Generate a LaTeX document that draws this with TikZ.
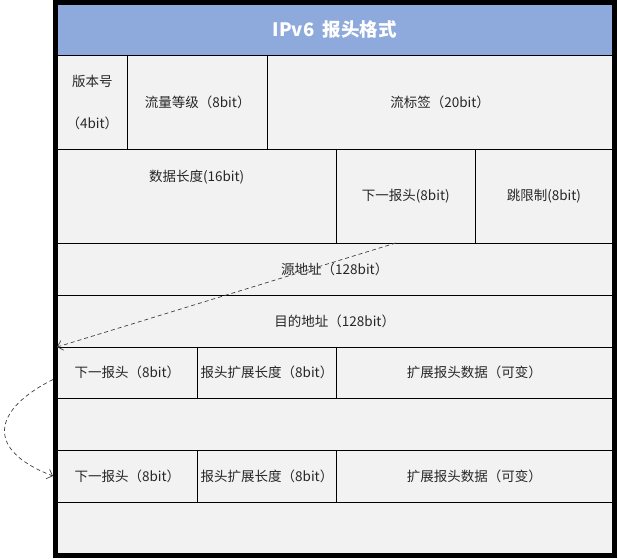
\documentclass[tikz,border=0pt]{standalone}
\usepackage{fontspec}
\setmainfont{Noto Sans CJK SC}
\usepackage{xcolor}
\usepackage{tikz}
\usetikzlibrary{positioning}
\usetikzlibrary{arrows.meta}
\definecolor{headblue}{HTML}{8EA9DB}
\definecolor{cellgray}{HTML}{F2F2F2}

\tikzset{
  cell/.style={draw, fill=cellgray, line width=0.7pt, anchor=north west, inner sep=0pt, outer sep=0pt,
    text=black!85, font=\fontsize{13.5}{16}\selectfont},
  jump/.style={draw=black!75, line width=0.7pt, dash pattern=on 4pt off 3pt,
    -{Straight Barb[length=5pt,width=10pt]}}
}

\begin{document}
\begin{tikzpicture}[x=1pt,y=-1pt]
      \useasboundingbox[fill=white] (0,0) rectangle (618,558);
      % header
      \node[cell, fill=headblue, minimum width=555.5pt, minimum height=51pt, text=white,
        font=\fontsize{18.5}{20}\selectfont\bfseries] (title) at (57,4) {IPv6\ \ 报头格式};
      % fixed part
      \node[cell, minimum width=70.7pt, minimum height=94pt, align=center] (ver) at (57,55) {版本号\\[26pt]（4bit）};
      \node[cell, minimum width=140pt, minimum height=94pt, right=0pt of ver] (tc) {流量等级（8bit）};
      \node[cell, minimum width=344.8pt, minimum height=94pt, right=0pt of tc] (fl) {流标签（20bit）};
      \node[cell, minimum width=279.3pt, minimum height=94pt] (len) at (57,149) {};
      \node (lenlbl) at ([yshift=-28pt]len.north) [text=black!85, font=\fontsize{13.5}{16}\selectfont] {数据长度(16bit)};
      \node[cell, minimum width=139pt, minimum height=94pt, right=0pt of len] (nxt) {下一报头(8bit)};
      \node[cell, minimum width=137.2pt, minimum height=94pt, right=0pt of nxt] (hop) {跳限制(8bit)};
      \node[cell, minimum width=555.5pt, minimum height=52pt] (src) at (57,243) {源地址（128bit）};
      \node[cell, minimum width=555.5pt, minimum height=52pt] (dst) at (57,295) {目的地址（128bit）};
      % extension headers
      \node[cell, minimum width=140.7pt, minimum height=51pt] (nh1) at (57,347) {下一报头（8bit）};
      \node[cell, minimum width=138.6pt, minimum height=51pt, right=0pt of nh1] (hl1) {报头扩展长度（8bit）};
      \node[cell, minimum width=276.2pt, minimum height=51pt, right=0pt of hl1] (ed1) {扩展报头数据（可变）};
      \node[cell, minimum width=555.5pt, minimum height=52pt] (gap1) at (57,398) {};
      \node[cell, minimum width=140.7pt, minimum height=52pt] (nh2) at (57,450) {下一报头（8bit）};
      \node[cell, minimum width=138.6pt, minimum height=52pt, right=0pt of nh2] (hl2) {报头扩展长度（8bit）};
      \node[cell, minimum width=276.2pt, minimum height=52pt, right=0pt of hl2] (ed2) {扩展报头数据（可变）};
      \node[cell, minimum width=555.5pt, minimum height=51.5pt] (gap2) at (57,502) {};
      % frame
      \draw[line width=4.6pt] (55,2.3) rectangle (615,555.7);
      % next header chain
      \draw[jump] ([xshift=-10pt]nxt.south) -- (nh1.north west);
      \draw[jump] ([xshift=-4pt,yshift=-7pt]nh1.west) .. controls (-8,410) and (-15,450) .. ([xshift=-4pt]nh2.west);
    \end{tikzpicture}
\end{document}
